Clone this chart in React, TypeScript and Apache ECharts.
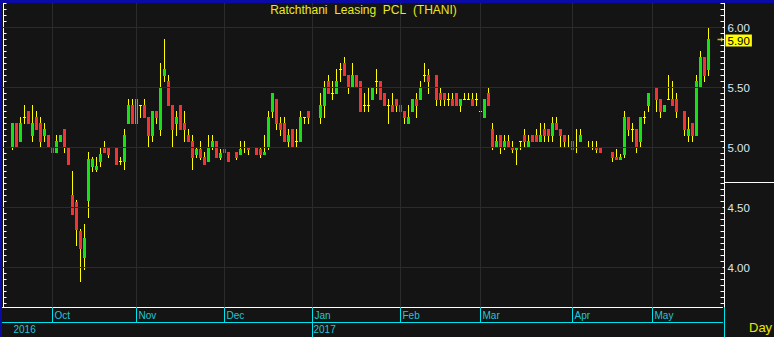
import React, { useEffect, useRef } from "react";
import * as echarts from "echarts";

// ---- data (weekday sessions from 2016-09-19 to 2017-05-19; null = market closed) ----
const firstSession = "2016-09-19";
const opens = [
  5.00,5.20,5.05,5.25,5.30,5.10,5.25,5.20,5.10,5.10,
  5.00,4.96,5.05,5.15,5.00,4.60,4.54,4.30,4.08,4.56,
  4.84,4.82,4.88,5.00,5.00,null,5.00,4.88,4.88,5.20,
  5.35,5.20,5.35,5.35,5.25,5.10,5.30,5.15,5.60,5.55,
  5.35,5.20,5.35,5.20,5.10,5.05,4.94,4.98,4.92,4.88,
  5.00,5.05,4.92,4.98,4.96,null,4.96,4.94,5.00,5.00,
  null,5.00,4.98,4.94,5.00,5.30,5.40,5.20,5.20,5.05,
  5.15,5.05,5.05,5.25,5.30,null,null,5.25,5.35,5.55,
  5.45,5.45,5.65,5.70,5.60,5.50,5.60,5.55,5.35,5.35,
  5.40,5.55,5.55,5.45,5.35,5.35,5.40,5.35,5.30,5.20,
  5.30,5.40,5.40,5.60,5.60,null,5.60,5.45,5.45,5.40,
  5.40,5.45,5.35,5.40,5.40,5.40,5.40,5.30,5.25,5.45,
  5.15,5.00,5.10,5.00,5.05,5.00,4.98,5.05,5.10,5.00,
  5.10,5.10,5.05,5.15,5.15,5.10,5.20,5.15,5.10,5.00,
  5.05,5.00,5.05,null,5.00,5.00,5.00,5.00,null,null,
  4.96,4.92,4.90,4.94,5.25,5.15,5.15,5.05,5.25,5.35,
  null,5.50,5.40,5.30,5.40,5.40,5.40,null,5.30,5.10,
  5.20,5.10,5.50,5.75,5.65,
];
const closes = [
  5.20,5.00,5.20,5.25,5.20,5.20,5.15,5.05,5.15,5.00,
  4.96,5.05,5.10,5.00,4.86,4.44,4.32,4.16,4.24,4.90,
  4.90,4.84,4.94,4.96,4.94,null,4.86,4.88,5.10,5.35,
  5.20,5.40,5.35,5.25,5.10,5.30,5.25,5.50,5.65,5.35,
  5.15,5.25,5.15,5.15,5.05,4.92,4.98,4.92,4.86,5.00,
  5.05,4.92,4.95,4.96,4.88,null,4.92,4.98,5.00,4.98,
  null,4.94,4.94,4.96,5.25,5.45,5.20,5.15,5.05,5.10,
  5.00,5.05,5.25,5.25,5.25,null,null,5.35,5.50,5.45,
  5.45,5.55,5.65,5.60,5.50,5.60,5.50,5.30,5.35,5.35,
  5.50,5.55,5.40,5.35,5.35,5.30,5.35,5.30,5.25,5.25,
  5.40,5.35,5.50,5.60,5.55,null,5.40,5.40,5.40,5.40,
  5.35,5.35,5.40,5.40,5.40,5.35,5.40,5.30,5.40,5.35,
  5.00,5.05,5.00,5.05,5.00,4.98,5.00,5.05,5.05,5.05,
  5.05,5.05,5.10,5.10,5.10,5.20,5.15,5.10,5.05,5.00,
  4.98,5.00,5.10,null,5.00,5.00,4.98,4.96,null,null,
  4.92,4.90,4.92,5.25,5.15,5.15,5.00,5.25,5.25,5.45,
  null,5.40,5.30,5.35,5.40,5.35,5.30,null,5.15,5.15,
  5.10,5.55,5.75,5.60,5.90,
];
const lows = [
  4.98,5.00,5.05,5.20,5.20,5.05,5.15,5.00,5.05,5.00,
  4.96,4.96,5.05,4.96,4.86,4.44,4.18,3.88,3.98,4.42,
  4.80,4.80,4.84,4.96,4.92,null,4.86,4.86,4.82,5.20,
  5.20,5.20,5.25,5.25,5.00,5.05,5.20,5.10,5.55,5.35,
  5.00,5.10,5.15,5.05,5.05,4.82,4.92,4.90,4.86,4.88,
  4.98,4.92,4.90,4.92,4.88,null,4.90,4.94,4.96,4.94,
  null,4.94,4.92,4.94,4.98,5.25,5.15,5.10,5.05,5.00,
  5.00,5.00,5.05,5.20,5.20,null,null,5.20,5.25,5.45,
  5.40,5.45,5.55,5.60,5.45,5.50,5.50,5.30,5.30,5.30,
  5.40,5.45,5.40,5.35,5.20,5.30,5.30,5.25,5.20,5.20,
  5.30,5.25,5.40,5.55,5.45,null,5.35,5.35,5.35,5.35,
  5.35,5.35,5.30,5.40,5.40,5.35,5.35,5.30,5.25,5.35,
  4.98,5.00,4.95,4.98,5.00,4.96,4.86,4.98,5.00,5.00,
  5.05,5.05,5.05,5.05,5.05,5.05,5.15,5.00,5.00,5.00,
  4.98,4.96,5.05,null,5.00,4.98,4.96,4.96,null,null,
  4.88,4.90,4.90,4.92,5.10,5.05,4.96,5.00,5.20,5.30,
  null,5.30,5.25,5.30,5.40,5.35,5.25,null,5.10,5.05,
  5.05,5.10,5.50,5.55,5.60,
];
const highs = [
  5.20,5.20,5.25,5.35,5.30,5.35,5.30,5.25,5.20,5.10,
  5.10,5.10,5.10,5.15,5.00,4.80,4.56,4.32,4.36,4.96,
  4.92,4.92,5.00,5.05,5.00,null,5.00,4.92,5.15,5.40,
  5.40,5.45,5.35,5.40,5.25,5.30,5.30,5.70,5.90,5.60,
  5.35,5.30,5.35,5.30,5.15,5.10,5.00,5.05,4.96,5.10,
  5.10,5.05,4.98,5.00,4.96,null,4.96,5.05,5.05,5.00,
  null,5.00,5.00,5.10,5.30,5.45,5.40,5.25,5.25,5.15,
  5.15,5.15,5.30,5.25,5.30,null,null,5.45,5.55,5.60,
  5.55,5.65,5.70,5.75,5.60,5.70,5.60,5.55,5.45,5.50,
  5.50,5.65,5.55,5.45,5.40,5.45,5.40,5.40,5.30,5.35,
  5.40,5.45,5.55,5.70,5.65,null,5.60,5.50,5.45,5.45,
  5.45,5.45,5.40,5.45,5.45,5.45,5.45,5.35,5.40,5.50,
  5.20,5.10,5.10,5.10,5.10,5.05,5.00,5.05,5.15,5.10,
  5.10,5.15,5.20,5.20,5.15,5.25,5.25,5.15,5.10,5.10,
  5.05,5.15,5.15,null,5.05,5.05,5.05,5.00,null,null,
  4.96,4.98,4.94,5.30,5.25,5.20,5.15,5.25,5.30,5.45,
  null,5.50,5.40,5.35,5.60,5.55,5.45,null,5.30,5.25,
  5.20,5.60,5.80,5.75,6.00,
];
const monthNames = ["Jan","Feb","Mar","Apr","May","Jun","Jul","Aug","Sep","Oct","Nov","Dec"];
const priceLabels = [4.0, 4.5, 5.0, 5.5, 6.0];
const lastPrice = 5.9;
const titleText = "Ratchthani\u00a0\u00a0Leasing\u00a0\u00a0PCL\u00a0\u00a0(THANI)";

// ---- layout / style ----
const PAD_BEFORE = 2;
const PAD_AFTER = 3;
const BG = "#141414";
const GRIDC = "#2b2b2b";
const CYAN_LINE = "#00e4ee";
const CYAN_TEXT = "#22c6d8";
const YELLOW = "#ffff00";
const GREEN = "#16e016";
const RED = "#f03434";
const FONT = "'Liberation Sans', Arial, sans-serif";

function weekdaysFrom(startIso: string, before: number, count: number): string[] {
  const d = new Date(startIso + "T00:00:00Z");
  let back = 0;
  while (back < before) {
    d.setUTCDate(d.getUTCDate() - 1);
    const w = d.getUTCDay();
    if (w !== 0 && w !== 6) back++;
  }
  const out: string[] = [];
  while (out.length < count) {
    const w = d.getUTCDay();
    if (w !== 0 && w !== 6) out.push(d.toISOString().slice(0, 10));
    d.setUTCDate(d.getUTCDate() + 1);
  }
  return out;
}

export default function App() {
  const ref = useRef<HTMLDivElement>(null);
  useEffect(() => {
    if (!ref.current) return;
    const chart = echarts.init(ref.current, undefined, { renderer: "svg" });
    const cats = weekdaysFrom(firstSession, PAD_BEFORE, PAD_BEFORE + opens.length + PAD_AFTER);
    const monthStarts: number[] = [];
    const yearStarts: number[] = [];
    for (let j = 1; j < cats.length; j++) {
      if (cats[j].slice(0, 7) !== cats[j - 1].slice(0, 7)) monthStarts.push(j);
      if (cats[j].slice(0, 4) !== cats[j - 1].slice(0, 4)) yearStarts.push(j);
    }
    const monthSet = new Set(monthStarts);
    const yearLabelSet = new Set([PAD_BEFORE, ...yearStarts]);
    const yearTickSet = new Set(yearStarts);

    const candles: number[][] = [];
    for (let i = 0; i < opens.length; i++) {
      if (opens[i] == null) continue;
      candles.push([i + PAD_BEFORE, opens[i] as number, closes[i] as number, lows[i] as number, highs[i] as number]);
    }
    const yMax = 6 + 24.5 / 120;
    const yMin = 6 - 280 / 120;
    const minorTicks: number[] = [];
    for (let k = 74; k <= 124; k++) minorTicks.push(Math.round(k * 5) / 100);

    const option: any = {
      animation: false,
      backgroundColor: BG,
      grid: { left: 2.5, top: 3, width: 720, height: 304.5, outerBoundsMode: "none", containLabel: false },
      xAxis: [
        {
          type: "category",
          data: cats,
          boundaryGap: true,
          position: "bottom",
          axisLine: { show: true, lineStyle: { color: "#ffffff", width: 1 } },
          axisTick: {
            show: true,
            alignWithLabel: true,
            interval: (i: number) => monthSet.has(i),
            length: 15,
            lineStyle: { color: CYAN_LINE, width: 1 },
          },
          axisLabel: {
            show: true,
            interval: (i: number) => monthSet.has(i),
            formatter: (v: string) => monthNames[parseInt(v.slice(5, 7), 10) - 1],
            align: "left",
            margin: 3,
            padding: [0, 0, 0, 2],
            color: CYAN_TEXT,
            fontSize: 10,
            fontFamily: FONT,
          },
          splitLine: { show: false },
        },
        {
          type: "category",
          data: cats,
          boundaryGap: true,
          position: "bottom",
          offset: 15,
          axisLine: { show: true, lineStyle: { color: CYAN_LINE, width: 1 } },
          axisTick: {
            show: true,
            alignWithLabel: true,
            interval: (i: number) => yearTickSet.has(i),
            length: 15,
            lineStyle: { color: CYAN_LINE, width: 1 },
          },
          axisLabel: {
            show: true,
            interval: (i: number) => yearLabelSet.has(i),
            formatter: (v: string) => v.slice(0, 4),
            align: "left",
            margin: 2,
            padding: [0, 0, 0, 1],
            color: CYAN_TEXT,
            fontSize: 10,
            fontFamily: FONT,
          },
          splitLine: { show: false },
        },
      ],
      yAxis: [
        {
          type: "value",
          position: "right",
          min: yMin,
          max: yMax,
          offset: 2,
          axisLine: { show: true, lineStyle: { color: "#ffffff", width: 1 } },
          axisTick: { show: true, inside: true, length: 4, customValues: minorTicks, lineStyle: { color: "#ffffff" } },
          axisLabel: {
            show: true,
            customValues: priceLabels,
            formatter: (v: number) => v.toFixed(2),
            color: "#dce6f6",
            fontSize: 11.5,
            lineHeight: 11,
            padding: [0, 0, 2, 0],
            fontFamily: FONT,
            margin: 3,
          },
          splitLine: { show: false },
        },
        {
          type: "value",
          position: "left",
          min: yMin,
          max: yMax,
          offset: -1,
          axisLine: { show: true, lineStyle: { color: "#ffffff", width: 1 } },
          axisTick: { show: true, inside: true, length: 3, customValues: minorTicks, lineStyle: { color: "#ffffff" } },
          axisLabel: { show: false },
          splitLine: { show: false },
        },
      ],
      series: [
        {
          type: "line",
          z: 1,
          data: [],
          xAxisIndex: 0,
          yAxisIndex: 0,
          markLine: {
            silent: true,
            symbol: ["none", "none"],
            label: { show: false },
            lineStyle: { color: GRIDC, type: "solid", width: 1 },
            data: [
              ...priceLabels.map((v) => ({ yAxis: v })),
              ...monthStarts.map((j) => ({ xAxis: j })),
            ],
          },
        },
        {
          type: "custom",
          z: 3,
          xAxisIndex: 0,
          yAxisIndex: 0,
          data: candles,
          encode: { x: 0, y: [1, 2, 3, 4] },
          renderItem: (_params: any, api: any) => {
            const j = api.value(0);
            const o = api.value(1);
            const c = api.value(2);
            const l = api.value(3);
            const h = api.value(4);
            const row = (p: number) => Math.round(api.coord([j, p])[1] - 0.5);
            const cx = Math.round(api.coord([j, o])[0] - 0.5) + 0.5;
            const yH = row(h), yL = row(l), yO = row(o), yC = row(c);
            const top = Math.min(yO, yC);
            const bot = Math.max(yO, yC);
            const fill = c > o ? GREEN : c < o ? RED : YELLOW;
            return {
              type: "group",
              children: [
                { type: "line", shape: { x1: cx, y1: yH, x2: cx, y2: yL + 1 }, style: { stroke: YELLOW, lineWidth: 1 } },
                { type: "rect", shape: { x: cx - 1.5, y: top, width: 3, height: bot - top + 1 }, style: { fill } },
              ],
            };
          },
        },
        {
          type: "scatter",
          z: 5,
          xAxisIndex: 0,
          yAxisIndex: 0,
          silent: true,
          symbol: "path://M0,2 L4,2 L4,0 L7,3 L4,6 L4,4 L0,4 Z",
          symbolSize: [6, 5],
          itemStyle: { color: "#e8e800" },
          data: [[PAD_BEFORE + opens.length + 2, lastPrice]],
          markLine: {
            silent: true,
            symbol: ["none", "none"],
            lineStyle: { color: "rgba(0,0,0,0)", width: 1 },
            label: {
              show: true,
              position: "end",
              distance: 3,
              offset: [0, 1],
              formatter: lastPrice.toFixed(2),
              backgroundColor: YELLOW,
              color: "#000000",
              fontSize: 11.5,
              lineHeight: 11,
              fontFamily: FONT,
              padding: [1, 2, 0, 2],
            },
            data: [{ yAxis: lastPrice }],
          },
        },
      ],
      graphic: [
        { type: "rect", z: 10, shape: { x: 0, y: 0, width: 774, height: 3 }, style: { fill: "#0a0aa6" } },
        { type: "rect", z: 10, shape: { x: 0, y: 0, width: 2, height: 337 }, style: { fill: "#0a0aa6" } },
        { type: "line", z: 10, shape: { x1: 724.5, y1: 182.5, x2: 774, y2: 182.5 }, style: { stroke: "#ffffff", lineWidth: 1 } },
        { type: "line", z: 10, shape: { x1: 724.5, y1: 307.5, x2: 724.5, y2: 337 }, style: { stroke: CYAN_LINE, lineWidth: 1 } },
        {
          type: "text",
          z: 10,
          x: 363.5,
          y: 10,
          style: {
            text: titleText,
            fill: "#eaea1e",
            font: `12px ${FONT}`,
            align: "center",
            verticalAlign: "middle",
            textAlign: "center",
            textVerticalAlign: "middle",
          },
        },
        {
          type: "text",
          z: 10,
          x: 749,
          y: 327,
          style: {
            text: "Day",
            fill: "#e8e800",
            font: `13px ${FONT}`,
            align: "left",
            verticalAlign: "middle",
            textAlign: "left",
            textVerticalAlign: "middle",
          },
        },
      ],
    };
    chart.setOption(option);
    return () => chart.dispose();
  }, []);
  return (
    <div
      ref={ref}
      style={{ position: "fixed", left: 0, top: 0, width: 774, height: 337, background: BG }}
    />
  );
}
